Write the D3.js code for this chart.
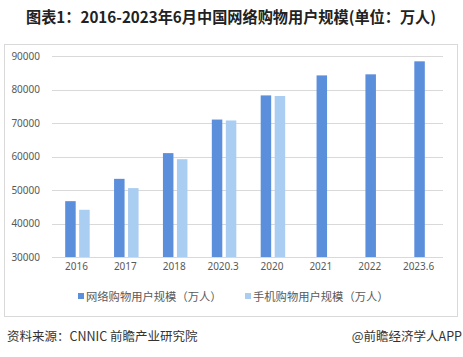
<!DOCTYPE html>
<html><head><meta charset="utf-8">
<script src="https://cdn.jsdelivr.net/npm/d3@7"></script>
<style>body{margin:0;background:#fff;}svg{display:block;font-family:"Noto Sans CJK SC","Microsoft YaHei",sans-serif;}</style>
</head><body><svg id="c" width="463" height="357"></svg>
<script>
const categories = ["2016","2017","2018","2020.3","2020","2021","2022","2023.6"];
const onlineUsers = [46670,53332,61011,71027,78241,84210,84529,88410];
const mobileUsers = [44093,50563,59191,70749,78058,null,null,null];
const yTicks = [30000,40000,50000,60000,70000,80000,90000];
const seriesNames = ["网络购物用户规模（万人）","手机购物用户规模（万人）"];
const colors = ["#5b8fdc","#aacdf2"];

const svg = d3.select("#c");
svg.append("text").attr("x",231).attr("y",23).attr("text-anchor","middle")
  .attr("font-size",15.5).attr("font-weight","bold").attr("fill","#222")
  .attr("textLength",410).attr("lengthAdjust","spacingAndGlyphs")
  .text("图表1：2016-2023年6月中国网络购物用户规模(单位：万人)");

svg.append("rect").attr("x",4.5).attr("y",44.5).attr("width",453).attr("height",272)
  .attr("fill","none").attr("stroke","#d9d9d9");

const x = d3.scaleBand().domain(categories).range([52,443]).paddingInner(0).paddingOuter(0);
const y = d3.scaleLinear().domain([30000,90000]).range([257,56]);

svg.append("g").selectAll("line").data(yTicks).join("line")
  .attr("x1",52).attr("x2",443).attr("y1",d=>Math.round(y(d))+0.5).attr("y2",d=>Math.round(y(d))+0.5)
  .attr("stroke","#d9d9d9");

const yAxis = d3.axisLeft(y).tickValues(yTicks).tickSize(0).tickPadding(0).tickFormat(d3.format("d"));
const ga = svg.append("g").attr("transform","translate(40,0)").call(yAxis);
ga.select(".domain").remove();
ga.selectAll("text").attr("font-size",10).attr("fill","#595959").attr("font-family","'Noto Sans',sans-serif");

const xAxis = d3.axisBottom(x).tickSize(0).tickPadding(6);
const gx = svg.append("g").attr("transform","translate(0,257)").call(xAxis);
gx.select(".domain").remove();
gx.selectAll("text").attr("font-size",10).attr("fill","#595959").attr("font-family","'Noto Sans',sans-serif");

const bw = 10.5, gap = 3.5;
const inner = d3.scaleBand().domain([0,1]).range([0,bw*2+gap]).paddingInner(gap/(bw+gap));
const groups = svg.append("g").selectAll("g").data(categories).join("g")
  .attr("transform",c=>`translate(${x(c)+x.bandwidth()/2-(bw*2+gap)/2+1},0)`);
groups.each(function(c,i){
  const g = d3.select(this);
  const vals = [onlineUsers[i], mobileUsers[i]];
  const single = vals[1]===null;
  vals.forEach((v,j)=>{
    if(v===null) return;
    const xo = single ? (bw*2+gap)/2 - bw/2 : inner(j);
    g.append("rect").attr("x",xo).attr("y",y(v)).attr("width",bw).attr("height",257-y(v)).attr("fill",colors[j]);
  });
});

const leg = svg.append("g").attr("transform","translate(0,297)");
const lx = [78,245];
seriesNames.forEach((n,i)=>{
  leg.append("rect").attr("x",lx[i]).attr("y",-4).attr("width",6).attr("height",6).attr("fill",colors[i]);
  leg.append("text").attr("x",lx[i]+8).attr("y",4).attr("font-size",11.3).attr("fill","#595959").text(n);
});

svg.append("text").attr("x",7).attr("y",341).attr("font-size",12.5).attr("fill","#333").text("资料来源：CNNIC 前瞻产业研究院");
svg.append("text").attr("x",462).attr("y",341).attr("text-anchor","end").attr("font-size",12.5).attr("fill","#333").text("@前瞻经济学人APP");
</script></body></html>
